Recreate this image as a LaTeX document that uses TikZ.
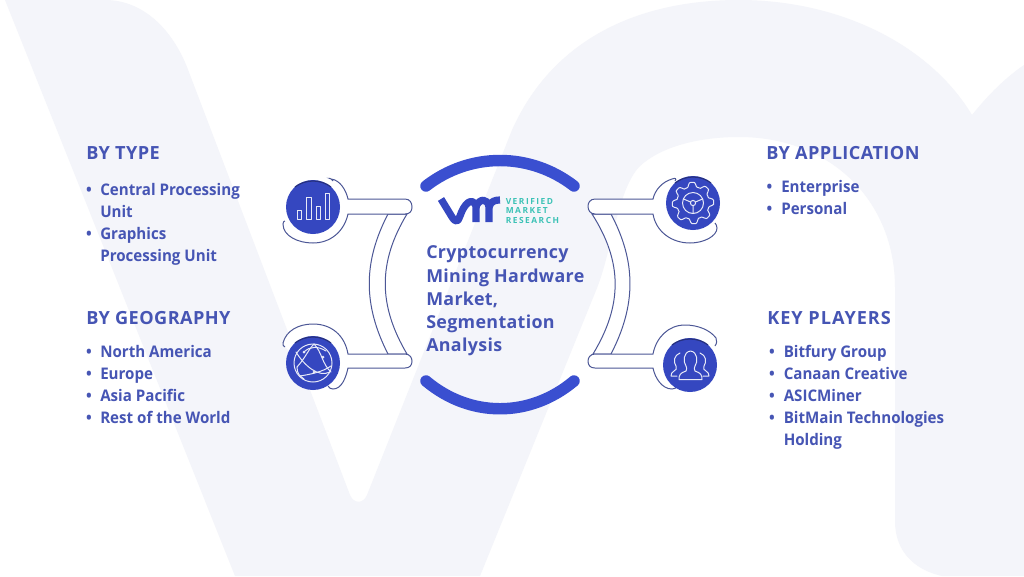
\documentclass[tikz,border=0pt]{standalone}
\usepackage{fontspec}
\setmainfont{Open Sans}
\newfontfamily\headf{Open Sans}[LetterSpace=2.4]
\newfontfamily\headwidef{Open Sans}[LetterSpace=5.5]
\newfontfamily\titlef{Open Sans}[LetterSpace=1.8]
\newfontfamily\logof{Open Sans}[LetterSpace=18]
\newfontfamily\itemf{Open Sans}[FakeStretch=0.945]
\definecolor{wash}{HTML}{F4F5FA}
\definecolor{ink}{HTML}{4655B4}
\definecolor{ring}{HTML}{3A4FD0}
\definecolor{discblue}{HTML}{3547C0}
\definecolor{discdark}{HTML}{26307F}
\definecolor{lineblue}{HTML}{4C5796}
\definecolor{teal}{HTML}{3CC2B6}
\tikzset{
  x=0.75pt,y=-0.75pt,
  head/.style={anchor=base west,inner sep=0,text=ink,font=\headf\bfseries\fontsize{13.6}{16}\selectfont},
  entry/.style={anchor=base west,inner sep=0,text=ink,font=\itemf\bfseries\fontsize{12}{16}\selectfont},
  dot/.style={anchor=base,inner sep=0,text=ink,font=\itemf\bfseries\fontsize{12}{16}\selectfont},
  title/.style={anchor=base west,inner sep=0,text=ink,font=\titlef\bfseries\fontsize{13.4}{16}\selectfont},
  logotext/.style={anchor=base west,inner sep=0,text=teal,font=\logof\bfseries\fontsize{6.3}{7}\selectfont},
  halo/.style={draw=lineblue,line width=0.75pt,fill=white},
  discnode/.style={circle,fill=discblue,minimum size=40.5pt,inner sep=0},
  arcband/.style={draw=ring,line width=8.6pt,line cap=round},
  glyph/.style={draw=white!88!discblue,line width=0.75pt,line join=round,line cap=round},
  logomark/.style={draw=discblue,line width=5.4pt,line join=round},
}
\begin{document}
\begin{tikzpicture}
\useasboundingbox (0,0) rectangle (1024,576);
\fill[white] (0,0) rectangle (1024,576);
% watermark
\fill[wash] (5,0) -- (235,576) -- (480,576) -- (597,288)
  .. controls (612,250) and (618,188) .. (640,166)
  .. controls (662,146) and (700,137) .. (739,137)
  .. controls (830,137) and (895,200) .. (895,288)
  -- (895,521) .. controls (895,552) and (915,570) .. (942,576)
  -- (1024,576) -- (1024,65)
  .. controls (1005,78) and (988,95) .. (972,115)
  .. controls (930,45) and (840,0) .. (739,0)
  .. controls (630,0) and (550,45) .. (512,130)
  -- (367,495) .. controls (363,504) and (354,504) .. (350,495)
  -- (187,67) .. controls (170,25) and (140,0) .. (105,0) -- cycle;
% centre arcs
\draw[arcband] (426,186) .. controls (470,152) and (530,152) .. (574,186);
\draw[arcband] (426,381) .. controls (470,418) and (530,418) .. (574,381);
% curved bands
\draw[halo] (388,214) .. controls (363,262) and (363,305) .. (388,354) -- (407,354)
  .. controls (378,305) and (378,262) .. (407,214) -- cycle;
\draw[halo] (592,214) .. controls (622.7,262) and (622.7,305) .. (593,354) -- (611,354)
  .. controls (636.3,305) and (636.3,262) .. (611,214) -- cycle;
% connector shapes
\draw[halo] (333,181) .. controls (331,178) and (328,178) .. (331,179)
  .. controls (340,180) and (346,190) .. (348,199) -- (405,199)
  .. controls (410,199) and (412,203) .. (412,207) .. controls (412,211) and (410,214) .. (405,214)
  -- (348,214) .. controls (344,232) and (330,243) .. (313,243)
  .. controls (298,243) and (283,236) .. (283,224) .. controls (283,222) and (284,221) .. (285,221);
\draw[halo] (285,347) .. controls (283,346) and (283,345) .. (283,343)
  .. controls (286,331) and (298,324) .. (313,324)
  .. controls (332,324) and (345,336) .. (348,354) -- (405,354)
  .. controls (410,354) and (412,358) .. (412,361) .. controls (412,365) and (410,368) .. (405,368)
  -- (348,368) .. controls (346,377) and (342,389) .. (333,389) .. controls (331,389) and (329,388) .. (328,386);
\draw[halo] (675,181) .. controls (677,178) and (675,178) .. (672,179)
  .. controls (662,182) and (655,190) .. (653,199) -- (595,199)
  .. controls (590,199) and (588,203) .. (588,206) .. controls (588,210) and (590,214) .. (595,214)
  -- (653,214) .. controls (656,232) and (672,243) .. (690,243)
  .. controls (704,243) and (717,236) .. (717,228) .. controls (717,226) and (716,224) .. (715,223);
\draw[halo] (715,346) .. controls (717,343) and (717,341) .. (716,338)
  .. controls (710,330) and (698,325) .. (685,325)
  .. controls (668,325) and (656,338) .. (653,354) -- (595,354)
  .. controls (590,354) and (588,358) .. (588,361) .. controls (588,365) and (590,368) .. (595,368)
  -- (653,368) .. controls (655,378) and (662,389) .. (672,389) .. controls (675,389) and (676,388) .. (677,386);
% discs
\node[discnode] (typeDisc) at (313,207) {};
\node[discnode] (geoDisc) at (313,363) {};
\node[discnode] (appDisc) at (693,203) {};
\node[discnode] (keyDisc) at (690,365) {};
\draw[discdark,line width=0.9pt] (295,187) .. controls (305,179) and (321,179) .. (331,187);
\draw[discdark,line width=0.9pt] (295,343) .. controls (305,335) and (321,335) .. (331,343);
\draw[discdark,line width=0.9pt] (675,183) .. controls (685,175) and (701,175) .. (711,183);
\draw[discdark,line width=0.9pt] (672,345) .. controls (682,337) and (698,337) .. (708,345);
% bars icon
\draw[glyph] (297,210) rectangle (301,219);
\draw[glyph] (306,197) rectangle (311,219);
\draw[glyph] (316,206) rectangle (320,219);
\draw[glyph] (325,193) rectangle (329,219);
% globe icon
\draw[glyph] (313,363) circle (19);
\draw[glyph] (296,352) .. controls (304,365) and (318,378) .. (330,372);
\draw[glyph] (314,344) .. controls (308,350) and (306,357) .. (297,367);
\draw[glyph] (314,344) .. controls (322,352) and (322,364) .. (331,372);
\draw[glyph] (297,367) .. controls (297,374) and (300,376) .. (304,379);
\draw[glyph] (300,376) .. controls (312,374) and (322,372) .. (331,366);
\draw[glyph] (304,352) .. controls (310,346) and (318,346) .. (326,351);
\fill[white!88!discblue] (304,352) circle (1.5) (323,357) circle (1.5) (314,372) circle (1.5);
% gear icon
\draw[glyph] plot[smooth cycle,samples=97,domain=0:356.25] ({693+(18.5+2.2*max(-1,min(1,1.7*cos(8*\x+22.5))))*cos(\x)},{203+(18.5+2.2*max(-1,min(1,1.7*cos(8*\x+22.5))))*sin(\x)});
\draw[glyph] (693,203) circle (10.5);
\draw[glyph] (693,203) circle (2.6);
\draw[glyph] (690.6,202) -- (683.5,199) (695.4,202) -- (702.5,199) (693,205.6) -- (693,213.5);
% people icon
\draw[glyph] (679,379.5) -- (702,379.5) .. controls (702,375) and (701,373) .. (695,371)
  .. controls (694,369) and (694,368) .. (695,366) .. controls (698,362) and (698,352) .. (690.5,351)
  .. controls (683,352) and (683,362) .. (686,366) .. controls (687,368) and (687,369) .. (686,371)
  .. controls (680,373) and (679,375) .. (679,379.5);
\draw[glyph] (680,353) .. controls (674,355) and (673,362) .. (676,366) .. controls (677,369) and (676,370) .. (674,371)
  .. controls (672,372) and (671,374) .. (671,376) -- (677,376);
\draw[glyph] (700,353) .. controls (706,355) and (707,362) .. (704,366) .. controls (703,369) and (704,370) .. (706,371)
  .. controls (708,372) and (709,374) .. (709,376) -- (703,376);
% logo
\draw[logomark] (441,199) -- (452,217) .. controls (456,223) and (458,222) .. (460,216)
  .. controls (464,204) and (472,196) .. (476,206) -- (476,222);
\draw[logomark] (476,207) .. controls (479,198) and (488,198) .. (489,207) -- (489,222);
\draw[logomark] (489,207) .. controls (491,201) and (495,200) .. (500,200);
\node[logotext] (logoA) at (505.5,204.5) {VERIFIED};
\node[logotext] (logoB) at (505.5,213.8) {MARKET};
\node[logotext] (logoC) at (505.5,223.2) {RESEARCH};
% centre title
\node[title] (t1) at (426,258.5) {Cryptocurrency};
\node[title] (t2) at (426,282) {Mining Hardware};
\node[title] (t3) at (426,305) {Market,};
\node[title] (t4) at (426,328) {Segmentation};
\node[title] (t5) at (426,351) {Analysis};
% left lists
\node[head] (h1) at (86,159) {BY TYPE};
\node[dot] (a0) at (89,195) {•}; \node[entry] (a1) at (100,195) {Central Processing};
\node[entry] (a2) at (100,217) {Unit};
\node[dot] (a5) at (89,239) {•}; \node[entry] (a3) at (100,239) {Graphics};
\node[entry] (a4) at (100,261) {Processing Unit};
\node[head] (h2) at (86,324) {BY GEOGRAPHY};
\node[dot] (b5) at (89,357) {•}; \node[entry] (b1) at (100,357) {North America};
\node[dot] (b6) at (89,379) {•}; \node[entry] (b2) at (100,379) {Europe};
\node[dot] (b7) at (89,401) {•}; \node[entry] (b3) at (100,401) {Asia Pacific};
\node[dot] (b8) at (89,423) {•}; \node[entry] (b4) at (100,423) {Rest of the World};
% right lists
\node[head] (h3) at (766,159) {BY APPLICATION};
\node[dot] (c5) at (769.5,192.5) {•}; \node[entry] (c1) at (781,192.5) {Enterprise};
\node[dot] (c6) at (769.5,214) {•}; \node[entry] (c2) at (781,214) {Personal};
\node[head,font=\headwidef\bfseries\fontsize{13.6}{16}\selectfont] (h4) at (767,324) {KEY PLAYERS};
\node[dot] (d6) at (772,357) {•}; \node[entry] (d1) at (783.5,357) {Bitfury Group};
\node[dot] (d7) at (772,379) {•}; \node[entry] (d2) at (783.5,379) {Canaan Creative};
\node[dot] (d8) at (772,401) {•}; \node[entry] (d3) at (783.5,401) {ASICMiner};
\node[dot] (d9) at (772,423) {•}; \node[entry] (d4) at (783.5,423) {BitMain Technologies};
\node[entry] (d5) at (783.5,445) {Holding};
\end{tikzpicture}
\end{document}
